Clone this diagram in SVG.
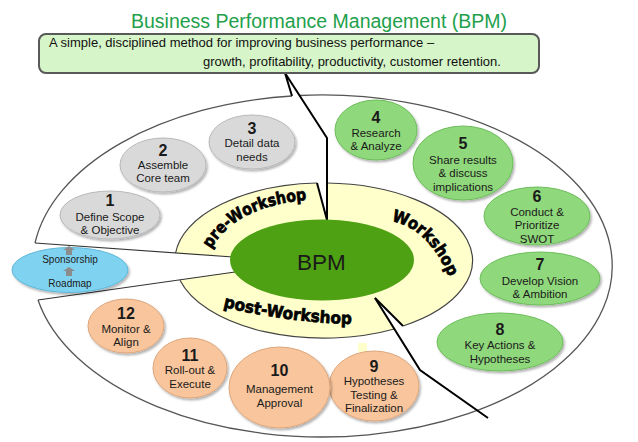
<svg xmlns="http://www.w3.org/2000/svg" width="638" height="442" viewBox="0 0 638 442">
<defs>
<style>
.lbl{font-family:"Liberation Sans",Arial,sans-serif;font-size:11.5px;fill:#1a1a1a;text-anchor:middle}
.num{font-family:"Liberation Sans",Arial,sans-serif;font-size:16px;font-weight:bold;fill:#1a1a1a;text-anchor:middle}
.sp{font-family:"Liberation Sans",Arial,sans-serif;font-size:10px;fill:#1a1a1a;text-anchor:middle}
.arc{font-family:"DejaVu Sans","Liberation Sans",sans-serif;font-size:16.5px;font-weight:bold;fill:#000;stroke:#000;stroke-width:0.7}
.grey{fill:#d9d9d9;stroke:#b8b8b8;stroke-width:1}
.green{fill:#90d87c;stroke:#6cbd5a;stroke-width:1}
.orange{fill:#f9c59c;stroke:#dca67c;stroke-width:1}
.outer{fill:none;stroke:#555;stroke-width:1.3}
.ring{fill:none;stroke:#444;stroke-width:1.2}
.thin{fill:none;stroke:#333;stroke-width:1.2}
.ptr{fill:none;stroke:#000;stroke-width:2;stroke-linejoin:miter}
</style>
<filter id="sh" x="-20%" y="-20%" width="140%" height="150%">
<feDropShadow dx="1.5" dy="2" stdDeviation="1.2" flood-color="#000" flood-opacity="0.3"/>
</filter>
<path id="prePath" d="M 211,249 Q 236,206 307,200"/>
<path id="wsPath" d="M 391,221 Q 430,229 450,280"/>
<path id="postPath" d="M 223,307 Q 290,323 354,324"/>
</defs>

<g id="title">
<text x="319" y="28" font-family="Liberation Sans,Arial,sans-serif" font-size="19.5" fill="#22a04b" text-anchor="middle">Business Performance Management (BPM)</text>
</g>

<g id="sectors">
<path class="outer" d="M 35,243 A 290 171 0 0 1 292,96"/>
<path class="outer" d="M 299.5,95.5 A 290 171 0 1 1 38,300"/>
<path d="M 322,260 L 233,257 L 175.6,253 A 149 77.5 0 0 1 317,183 L 327,220 Z" fill="#ffffcc"/>
<path d="M 322,260 L 327,220 L 327,183 A 149 77.5 0 0 1 403,326 L 375,298 Z" fill="#ffffcc"/>
<path d="M 322,260 L 375,298 L 394.3,329 A 149 77.5 0 0 1 180,280.3 L 235,272 Z" fill="#ffffcc"/>
<path class="ring" d="M 175.6,253 A 149 77.5 0 0 1 317,183"/>
<path class="ring" d="M 327,183 A 149 77.5 0 0 1 403,326"/>
<path class="ring" d="M 394.3,329 A 149 77.5 0 0 1 180,280.3"/>
<rect x="358" y="343" width="9" height="9" fill="#ffffcc"/>
</g>

<g id="connectors">
<line class="thin" x1="35" y1="243" x2="233" y2="257"/>
<line class="thin" x1="38" y1="300" x2="235" y2="272"/>
<polyline class="ptr" points="292,96 285,73 327,138 327,220"/>
<line class="ptr" x1="317" y1="183" x2="327" y2="220" stroke-width="1.6"/>
<line class="ptr" x1="375" y1="298" x2="403" y2="326" stroke-width="1.6"/>
<polyline class="ptr" points="375,298 420,370 488,418"/>
</g>

<g id="bpm">
<ellipse cx="322" cy="260" rx="92" ry="40.5" fill="#4fa114"/>
<text x="321.5" y="270" font-family="Liberation Sans,Arial,sans-serif" font-size="22.5" fill="#1a1a1a" text-anchor="middle">BPM</text>
</g>

<g id="phase-labels">
<text class="arc" textLength="112" lengthAdjust="spacingAndGlyphs"><textPath href="#prePath" textLength="112" lengthAdjust="spacingAndGlyphs">pre-Workshop</textPath></text>
<text class="arc" textLength="84" lengthAdjust="spacingAndGlyphs"><textPath href="#wsPath" textLength="84" lengthAdjust="spacingAndGlyphs">Workshop</textPath></text>
<text class="arc" textLength="130" lengthAdjust="spacingAndGlyphs"><textPath href="#postPath" textLength="130" lengthAdjust="spacingAndGlyphs">post-Workshop</textPath></text>
</g>

<g id="node1"><ellipse class="grey" filter="url(#sh)" cx="110" cy="215" rx="50" ry="24"/>
<text class="num" x="110" y="205.5">1</text><text class="lbl" x="110" y="221">Define Scope</text><text class="lbl" x="110" y="234">&amp; Objective</text></g>
<g id="node2"><ellipse class="grey" filter="url(#sh)" cx="163" cy="165" rx="43" ry="27"/>
<text class="num" x="163" y="155.5">2</text><text class="lbl" x="163" y="169">Assemble</text><text class="lbl" x="163" y="182">Core team</text></g>
<g id="node3"><ellipse class="grey" filter="url(#sh)" cx="252" cy="142" rx="43" ry="27"/>
<text class="num" x="252" y="133.5">3</text><text class="lbl" x="252" y="147">Detail data</text><text class="lbl" x="252" y="161">needs</text></g>

<g id="node4"><ellipse class="green" filter="url(#sh)" cx="376" cy="130" rx="41" ry="30"/>
<text class="num" x="376" y="122.5">4</text><text class="lbl" x="376" y="137">Research</text><text class="lbl" x="376" y="150">&amp; Analyze</text></g>
<g id="node5"><ellipse class="green" filter="url(#sh)" cx="463" cy="163" rx="50" ry="37"/>
<text class="num" x="463" y="148.5">5</text><text class="lbl" x="463" y="164">Share results</text><text class="lbl" x="463" y="177">&amp; discuss</text><text class="lbl" x="463" y="191">implications</text></g>
<g id="node6"><ellipse class="green" filter="url(#sh)" cx="537" cy="216" rx="53" ry="29"/>
<text class="num" x="537" y="201.5">6</text><text class="lbl" x="537" y="216">Conduct &amp;</text><text class="lbl" x="537" y="229">Prioritize</text><text class="lbl" x="537" y="243">SWOT</text></g>
<g id="node7"><ellipse class="green" filter="url(#sh)" cx="540" cy="278.5" rx="60" ry="26.5"/>
<text class="num" x="540" y="269.5">7</text><text class="lbl" x="540" y="285">Develop Vision</text><text class="lbl" x="540" y="298">&amp; Ambition</text></g>
<g id="node8"><ellipse class="green" filter="url(#sh)" cx="500" cy="342" rx="63" ry="29"/>
<text class="num" x="500" y="334.5">8</text><text class="lbl" x="500" y="349">Key Actions &amp;</text><text class="lbl" x="500" y="363">Hypotheses</text></g>

<g id="node9"><ellipse class="orange" filter="url(#sh)" cx="374" cy="386" rx="45" ry="35"/>
<text class="num" x="374" y="371.5">9</text><text class="lbl" x="374" y="385">Hypotheses</text><text class="lbl" x="374" y="399">Testing &amp;</text><text class="lbl" x="374" y="412">Finalization</text></g>
<g id="node10"><ellipse class="orange" filter="url(#sh)" cx="279.5" cy="387.5" rx="50.5" ry="40.5"/>
<text class="num" x="279.5" y="375.5">10</text><text class="lbl" x="279.5" y="393">Management</text><text class="lbl" x="279.5" y="407">Approval</text></g>
<g id="node11"><ellipse class="orange" filter="url(#sh)" cx="190" cy="368" rx="37" ry="30"/>
<text class="num" x="190" y="360.5">11</text><text class="lbl" x="190" y="374">Roll-out &amp;</text><text class="lbl" x="190" y="388">Execute</text></g>
<g id="node12"><ellipse class="orange" filter="url(#sh)" cx="126" cy="326" rx="38" ry="27"/>
<text class="num" x="126" y="318.5">12</text><text class="lbl" x="126" y="333">Monitor &amp;</text><text class="lbl" x="126" y="346">Align</text></g>

<g id="sponsorship">
<ellipse cx="70" cy="270" rx="58" ry="22.5" fill="#80d3f0" stroke="#5db7d8" stroke-width="1" filter="url(#sh)"/>
<path d="M 69,246 L 75,250 L 72,250 L 72,255 L 66,255 L 66,250 L 63,250 Z" fill="#8c8c8c"/>
<path d="M 69,267 L 75,271 L 72,271 L 72,276 L 66,276 L 66,271 L 63,271 Z" fill="#8c8c8c"/>
<text class="sp" x="70" y="262.5">Sponsorship</text>
<text class="sp" x="70" y="286.5">Roadmap</text>
</g>

<g id="callout">
<rect x="39" y="34" width="500" height="39" rx="7" fill="#d6f5c8" stroke="#595959" stroke-width="2"/>
<text x="49" y="47" font-family="Liberation Sans,Arial,sans-serif" font-size="13" fill="#111">A simple, disciplined method for improving business performance –</text>
<text x="203" y="66" font-family="Liberation Sans,Arial,sans-serif" font-size="13" fill="#111">growth, profitability, productivity, customer retention.</text>
</g>
</svg>
